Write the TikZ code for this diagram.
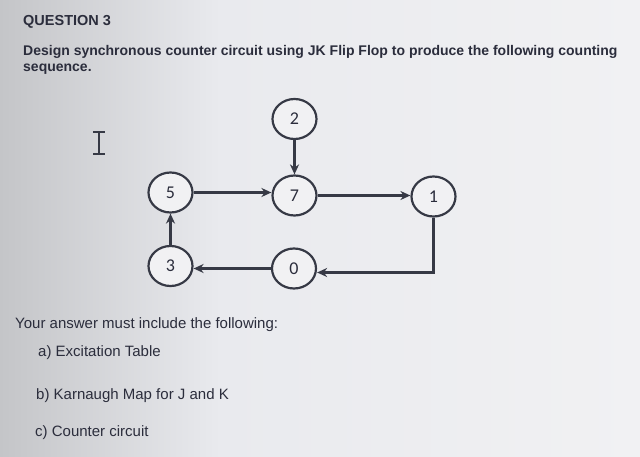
\documentclass[tikz,border=0pt]{standalone}
\usepackage{fontspec}
\setmainfont{Liberation Sans}
\newfontfamily\numfont{Carlito}
\usetikzlibrary{shapes.geometric,arrows.meta}
\definecolor{ink}{HTML}{2B2D3C}
\definecolor{linec}{HTML}{363945}
\definecolor{bgl}{HTML}{C4C5C8}
\definecolor{bgm}{HTML}{E9EAEE}
\definecolor{bgr}{HTML}{F1F1F3}
\tikzset{
  state/.style={ellipse,draw=linec,line width=2.2pt,fill=bgr,minimum width=44bp,minimum height=40bp,inner sep=0pt,font=\numfont\fontsize{18bp}{20bp}\selectfont,text=ink},
  flow/.style={draw=linec,line width=2.8pt,-{Stealth[length=10bp,width=9bp]}},
  txt/.style={anchor=west,inner sep=0pt,text=ink},
  boldtxt/.style={txt,font=\bfseries\fontsize{14bp}{16bp}\selectfont},
  plaintxt/.style={txt,font=\fontsize{15bp}{17bp}\selectfont}
}
\begin{document}
\begin{tikzpicture}[x=1bp,y=-1bp]
\useasboundingbox (0,0) rectangle (640,457);
\shade[left color=bgl,right color=bgm] (0,0) rectangle (220,457);
\shade[left color=bgm,right color=bgr] (220,0) rectangle (640,457);
% texts
\node[boldtxt,font=\bfseries\fontsize{14.5bp}{16bp}\selectfont] (q) at (23,22) {QUESTION 3};
\node[boldtxt] (d1) at (23,52) {Design synchronous counter circuit using JK Flip Flop to produce the following counting};
\node[boldtxt] (d2) at (23,69) {sequence.};
\node[plaintxt] (ya) at (15,325) {Your answer must include the following:};
\node[plaintxt] (ia) at (38,353) {a) Excitation Table};
\node[plaintxt] (ib) at (36,396) {b) Karnaugh Map for J and K};
\node[plaintxt] (ic) at (35,433) {c) Counter circuit};
% cursor
\draw[linec,line width=1.3pt] (93,132) -- (105,132) (99,132) -- (99,154) (93,154) -- (105,154);
% states
\node[state] (n2) at (294.5,119) {2};
\node[state] (n7) at (294.5,195.5) {7};
\node[state] (n1) at (433.5,196.5) {1};
\node[state] (n5) at (170.5,192.5) {5};
\node[state] (n3) at (170.5,266) {3};
\node[state] (n0) at (294,268.5) {0};
\coordinate (c1) at (433.5,272.5);
\draw[flow] (n2) -- (n7);
\draw[flow] (n5.east) -- (n5.east -| n7.west);
\draw[flow] (n7.east) -- (n7.east -| n1.west);
\draw[flow] (n1.south) -- (c1) -- (c1 -| n0.east);
\draw[flow] (n0.west) -- (n0.west -| n3.east);
\draw[flow] (n3) -- (n5);
\end{tikzpicture}
\end{document}
